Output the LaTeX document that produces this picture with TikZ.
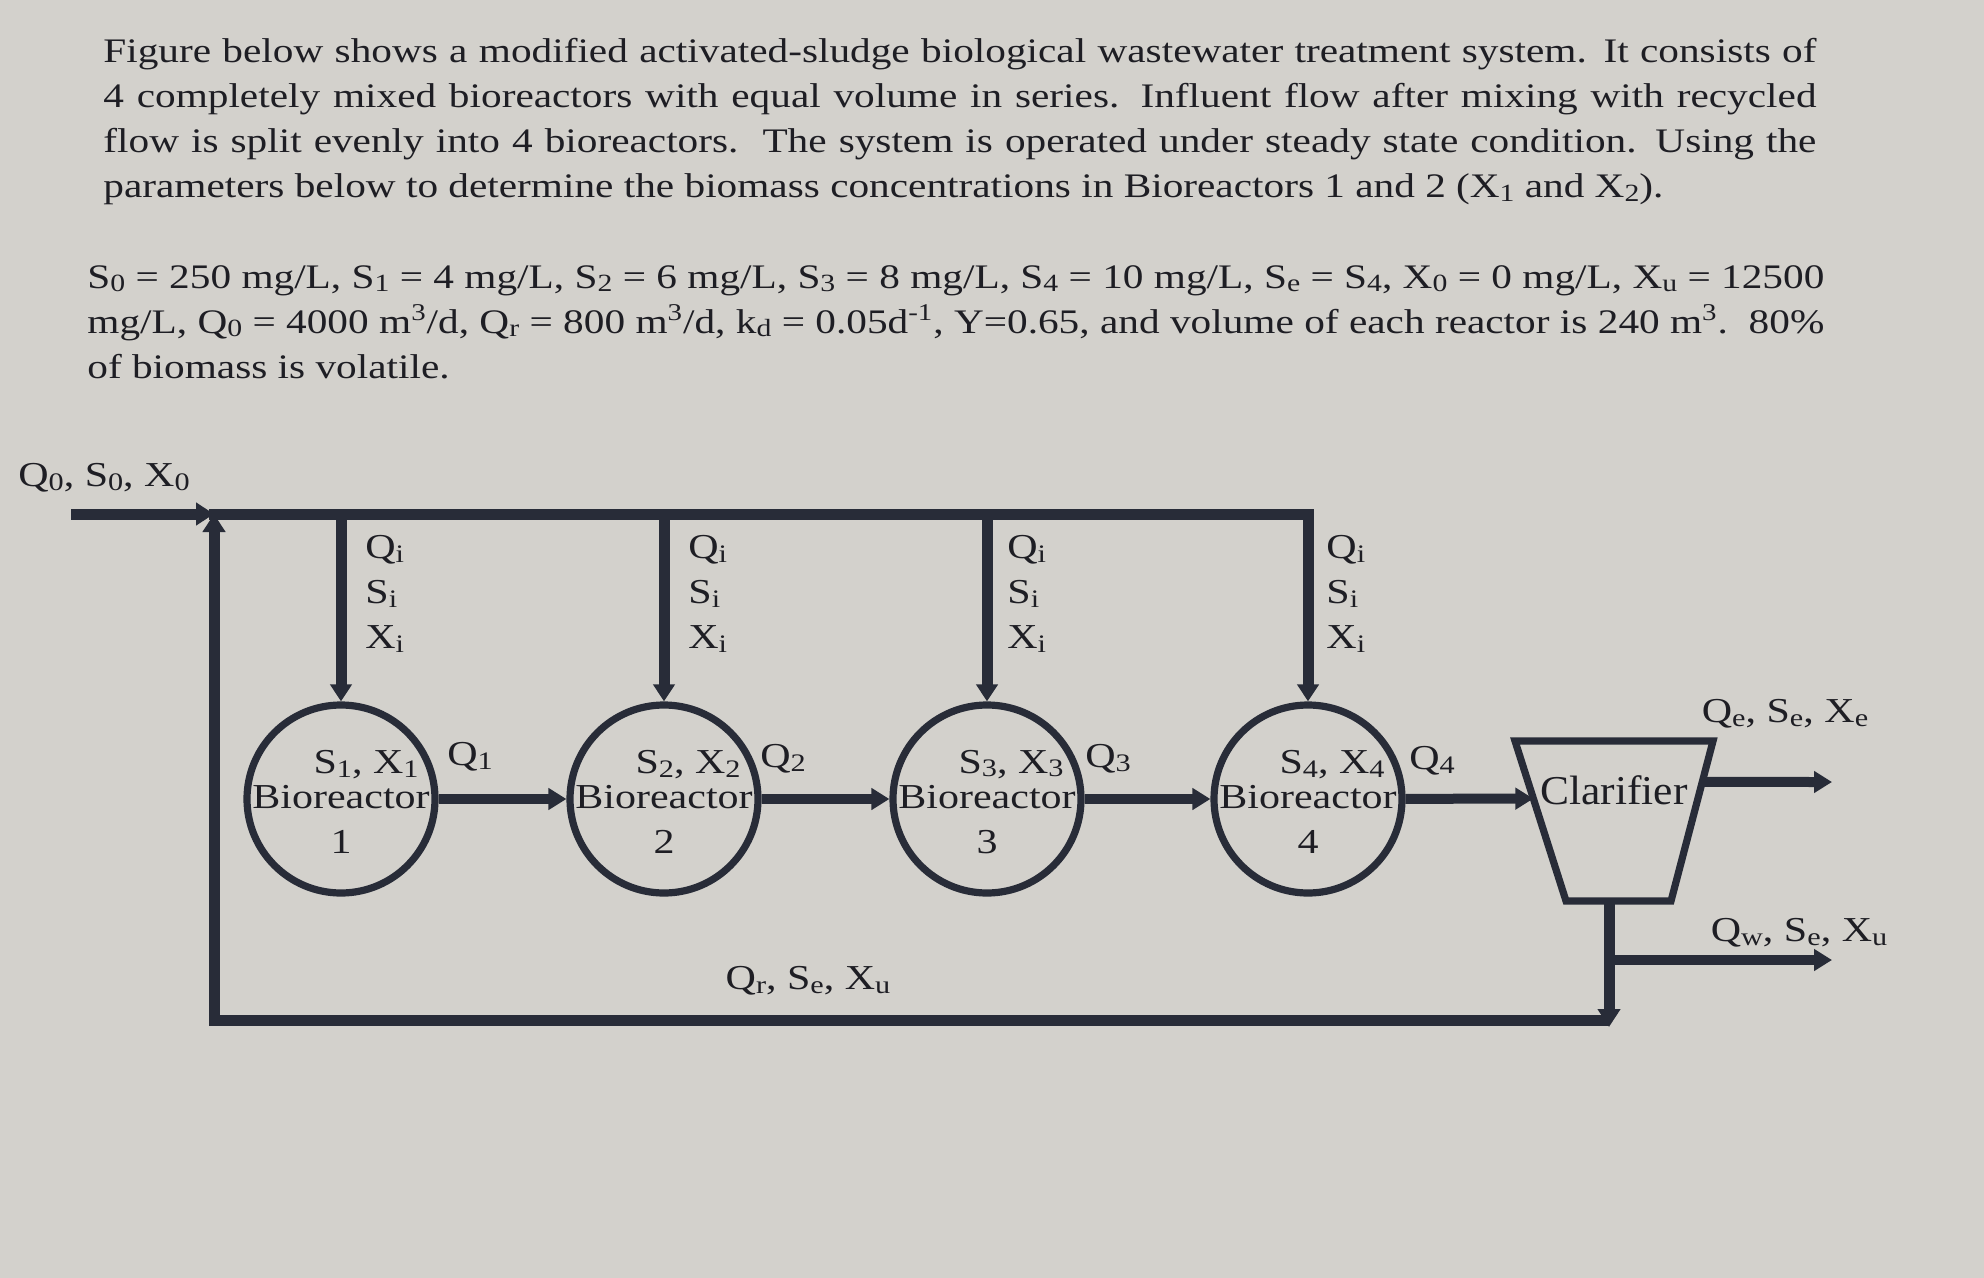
\documentclass[tikz,border=0pt]{standalone}
\usepackage{graphicx}
\usepackage{fontspec}
\setmainfont{Liberation Serif}[FakeStretch=1.2]
\newfontfamily\clarfont{Liberation Serif}[FakeStretch=1.06]
\usetikzlibrary{arrows.meta,calc}
\definecolor{paper}{RGB}{211,209,204}
\definecolor{ink}{RGB}{40,44,56}
\definecolor{txt}{RGB}{30,30,36}
\newcommand\sbx[1]{\raisebox{-0.1em}{\scalebox{0.72}{#1}}}
\begin{document}
\begin{tikzpicture}[x=0.5pt,y=-0.5pt,
  every node/.style={text=txt, inner sep=0pt},
  lbl/.style={font={\fontsize{17.5}{22.5}\selectfont}},
  pipe/.style={draw=ink, line width=5.5pt},
  feed/.style={draw=ink, line width=5.5pt, -{Triangle[length=8.5pt,width=10.5pt]}},
  flow/.style={draw=ink, line width=5pt, -{Triangle[length=9pt,width=10.5pt]}},
  reactor/.style={circle, draw=ink, line width=3.6pt, minimum size=94pt},
  rtext/.style={align=center, font={\fontsize{17.5}{22.5}\selectfont}},
  body/.style={anchor=north west, align=justify, font={\fontsize{17.2}{22.5}\selectfont}}
]
\fill[paper] (0,0) rectangle (1984,1278);
\useasboundingbox (0,0) rectangle (1984,1278);

% problem text
\node[body, text width=856.5pt] (p1) at (103,38) {Figure below shows a modified activated-sludge biological wastewater treatment system. It consists of\linebreak
4 completely mixed bioreactors with equal volume in series. Influent flow after mixing with recycled\linebreak
flow is split evenly into 4 bioreactors.\ \ The system is operated under steady state condition. Using the\linebreak
parameters below to determine the biomass concentrations in Bioreactors 1 and 2 (X\sbx{1} and X\sbx{2}).};

\node[body, text width=868.5pt] (p2) at (87,265) {S\sbx{0} = 250 mg/L, S\sbx{1} = 4 mg/L, S\sbx{2} = 6 mg/L, S\sbx{3} = 8 mg/L, S\sbx{4} = 10 mg/L, S\sbx{e} = S\sbx{4}, X\sbx{0} = 0 mg/L, X\sbx{u} = 12500\linebreak
mg/L, Q\sbx{0} = 4000 m\textsuperscript{3}/d, Q\sbx{r} = 800 m\textsuperscript{3}/d, k\sbx{d} = 0.05d\textsuperscript{-1}, Y=0.65, and volume of each reactor is 240 m\textsuperscript{3}.\ \ 80\%\linebreak
of biomass is volatile.};

% coordinates
\coordinate (in) at (71,514);
\coordinate (j) at (214,514);
\coordinate (h1) at (341,514);
\coordinate (h2) at (664,514);
\coordinate (h3) at (987,514);
\coordinate (h4) at (1308,514);
\coordinate (cTL) at (1515,741);
\coordinate (cTR) at (1713,741);
\coordinate (cBR) at (1671,901);
\coordinate (cBL) at (1566,901);
\coordinate (clin) at ($(cTL)!0.36!(cBL)$);
\coordinate (clout) at ($(cTR)!0.256!(cBR)$);
\coordinate (eff) at (1832,782);
\coordinate (cund) at (1609,901);
\coordinate (cbot) at (1609,1027);
\coordinate (wj) at (1609,960);
\coordinate (waste) at (1832,960);
\coordinate (rb) at (1609,1020);

% reactors
\node[reactor] (r1) at (341,799) {};
\node[reactor] (r2) at (664,799) {};
\node[reactor] (r3) at (987,799) {};
\node[reactor] (r4) at (1308,799) {};
\node[rtext] (t1) at (341,802) {\hspace*{25pt}S\sbx{1}, X\sbx{1}\\[-5pt]Bioreactor\\[0pt]1};
\node[rtext] (t2) at (664,802) {\hspace*{24pt}S\sbx{2}, X\sbx{2}\\[-5pt]Bioreactor\\[0pt]2};
\node[rtext] (t3) at (987,802) {\hspace*{24pt}S\sbx{3}, X\sbx{3}\\[-5pt]Bioreactor\\[0pt]3};
\node[rtext] (t4) at (1308,802) {\hspace*{24pt}S\sbx{4}, X\sbx{4}\\[-5pt]Bioreactor\\[0pt]4};

% clarifier
\draw[ink, line width=3.6pt, line join=miter] (cTL) -- (cTR) -- (cBR) -- (cBL) -- cycle;
\node[font={\clarfont\fontsize{20.5}{22}\selectfont}] (clar) at (1614,790) {Clarifier};

% piping
\draw[pipe, line cap=rect] (j) -- (h4);
\draw[pipe, -{Triangle[length=9pt,width=11pt]}] (in) -- (j);
\draw[pipe, line join=miter, -{Triangle[length=9pt,width=11pt]}] (rb) -| (j);
\draw[feed] (h1) -- (r1);
\draw[feed] (h2) -- (r2);
\draw[feed] (h3) -- (r3);
\draw[feed] (h4) -- (r4);
\draw[flow] (r1) -- (r2);
\draw[flow] (r2) -- (r3);
\draw[flow] (r3) -- (r4);
\draw[flow] (r4) -- (clin);
\draw[flow] (clout) -- (eff);
\draw[pipe, -{Triangle[length=9pt,width=11pt]}] (cund) -- (cbot);
\draw[flow] (wj) -- (waste);

% labels
\node[lbl] (q0) at (104,478) {Q\sbx{0}, S\sbx{0}, X\sbx{0}};
\node[lbl, anchor=north west, align=left] (qi1) at (365,535) {Q\sbx{i}\\S\sbx{i}\\X\sbx{i}};
\node[lbl, anchor=north west, align=left] (qi2) at (688,535) {Q\sbx{i}\\S\sbx{i}\\X\sbx{i}};
\node[lbl, anchor=north west, align=left] (qi3) at (1007,535) {Q\sbx{i}\\S\sbx{i}\\X\sbx{i}};
\node[lbl, anchor=north west, align=left] (qi4) at (1326,535) {Q\sbx{i}\\S\sbx{i}\\X\sbx{i}};
\node[lbl] (q1) at (470,757) {Q\sbx{1}};
\node[lbl] (q2) at (783,759) {Q\sbx{2}};
\node[lbl] (q3) at (1108,759) {Q\sbx{3}};
\node[lbl] (q4) at (1432,761) {Q\sbx{4}};
\node[lbl] (qe) at (1785,714) {Q\sbx{e}, S\sbx{e}, X\sbx{e}};
\node[lbl] (qw) at (1799,933) {Q\sbx{w}, S\sbx{e}, X\sbx{u}};
\node[lbl] (qr) at (808,981) {Q\sbx{r}, S\sbx{e}, X\sbx{u}};
\end{tikzpicture}
\end{document}
